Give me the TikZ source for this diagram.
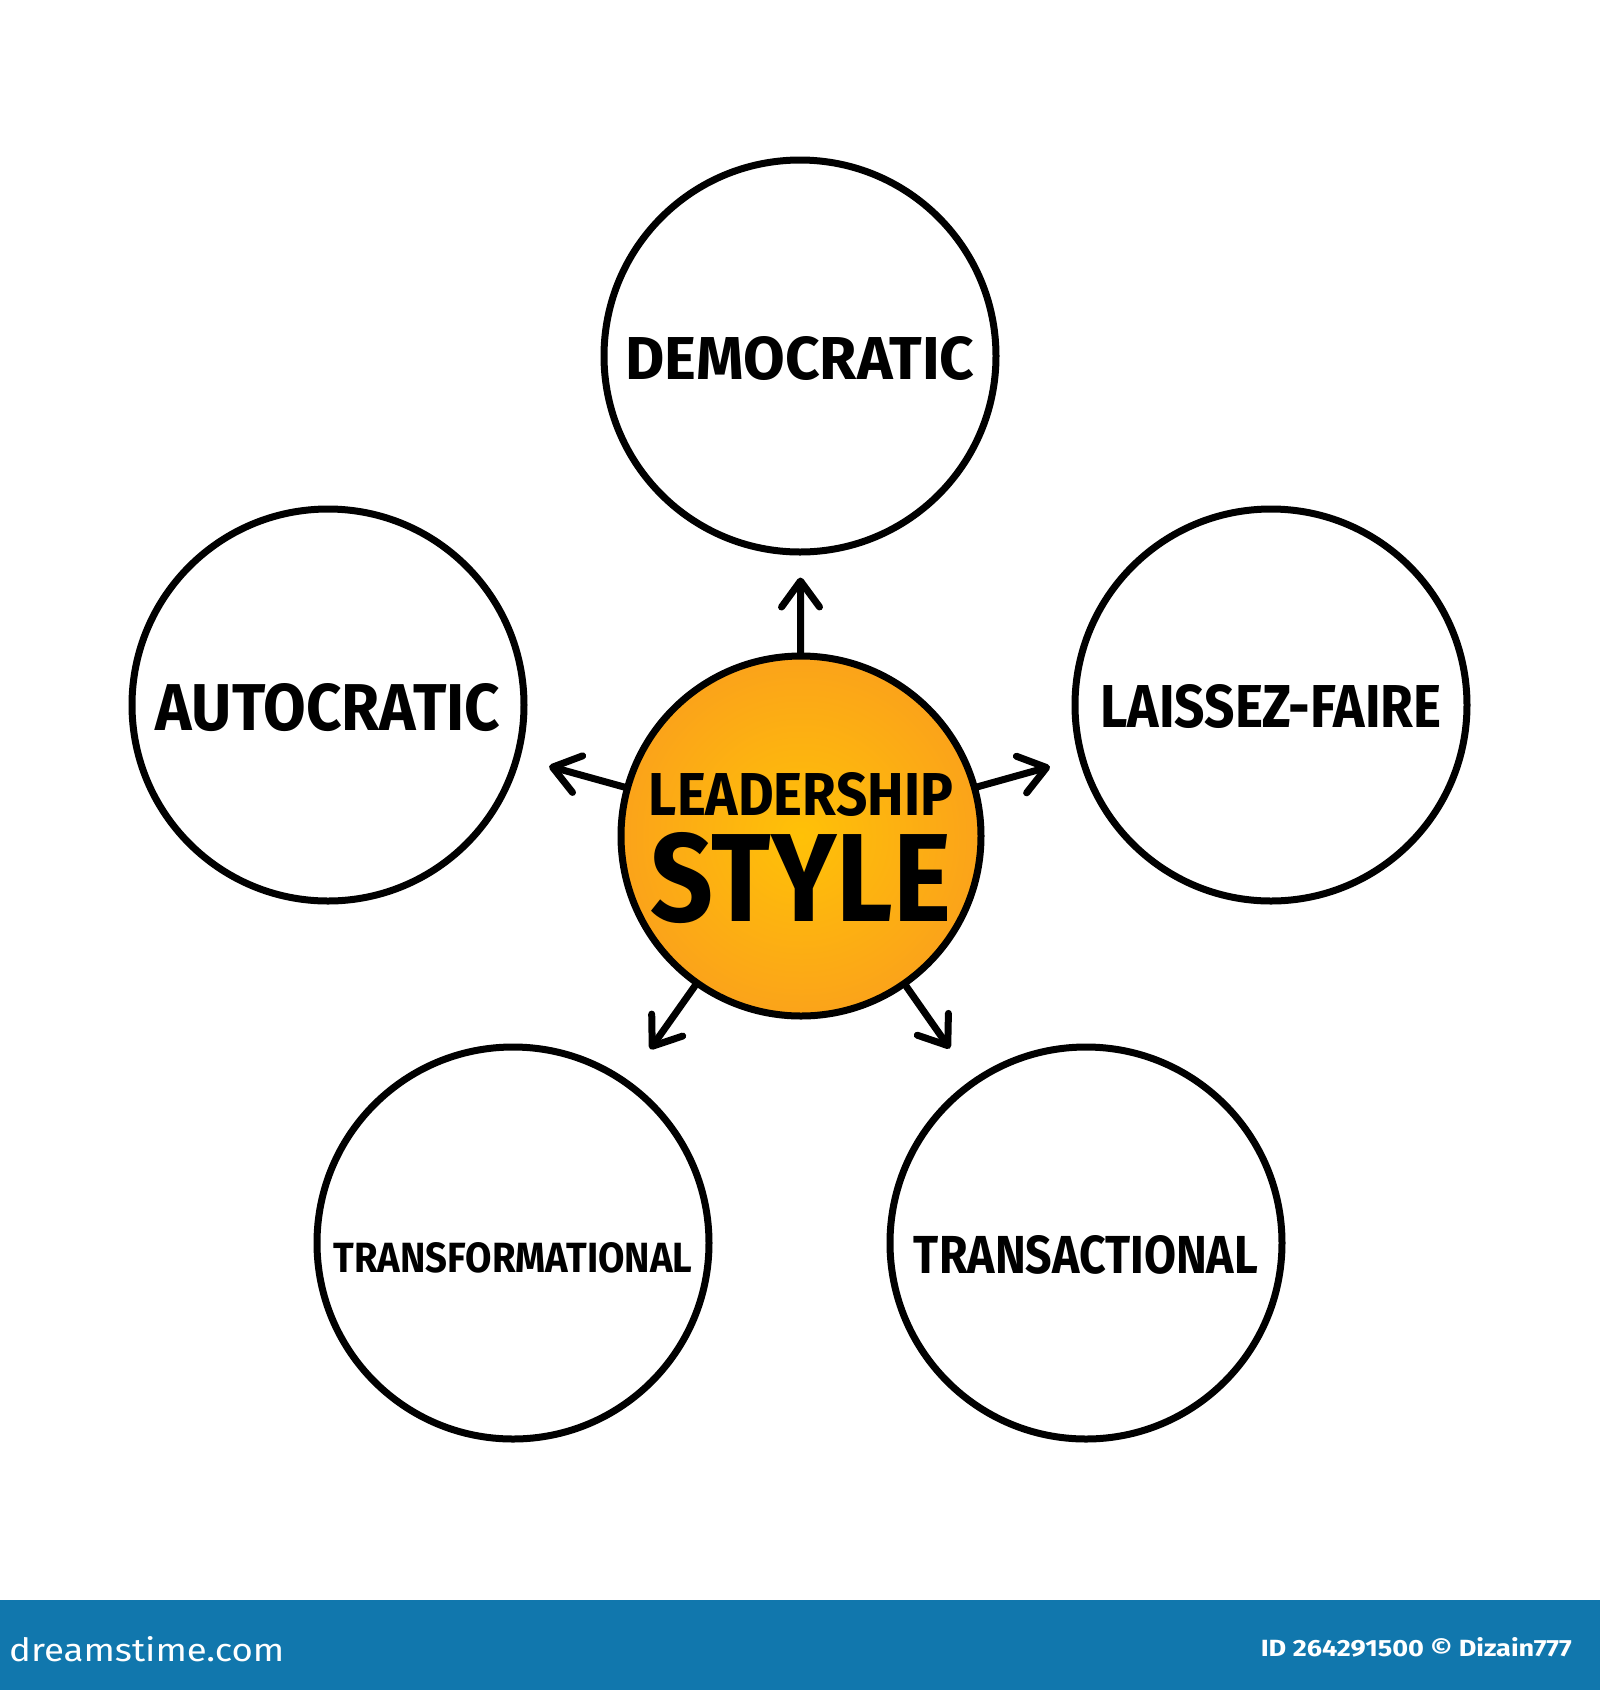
\documentclass[tikz,border=0pt]{standalone}
\usepackage{fontspec}
\setmainfont{Fira Sans}
\usepackage{graphicx}
\usetikzlibrary{arrows.meta}

\definecolor{coreinner}{RGB}{255,193,7}
\definecolor{coreouter}{RGB}{251,163,26}
\definecolor{stripe}{RGB}{17,119,173}
\newcommand{\fitlabel}[3]{\resizebox{#1}{#2}{\bfseries #3}}
\newcommand{\drop}[2]{\raisebox{-#1}[\height][0pt]{#2}}

\begin{document}
\begin{tikzpicture}[x=1pt,y=-1pt,
  kind/.style={circle,draw,line width=7pt,minimum size=392pt,inner sep=0pt},
  core/.style={circle,draw,line width=7pt,minimum size=360pt,inner sep=0pt,
    inner color=coreinner,outer color=coreouter},
  spoke/.style={-{Straight Barb[length=26pt,width=38pt,line cap=round,line join=round]},
    line width=7pt,line cap=round}]
\useasboundingbox (0,0) rectangle (1600,1690);
\node[core] (core) at (801,836)
  {\drop{11pt}{\shortstack{\fitlabel{304pt}{43pt}{LEADERSHIP}\\[12pt]\fitlabel{300pt}{89pt}{STYLE}}}};
\node[kind] (dem) at (800,356) {\drop{2pt}{\fitlabel{349pt}{43pt}{DEMOCRATIC}}};
\node[kind] (auto) at (328,705) {\drop{2pt}{\fitlabel{344pt}{47pt}{AUTOCRATIC}}};
\node[kind] (laissez) at (1271,705) {\drop{1pt}{\fitlabel{341pt}{43pt}{LAISSEZ-FAIRE}}};
\node[kind] (transf) at (513,1243) {\drop{14pt}{\fitlabel{359pt}{30pt}{TRANSFORMATIONAL}}};
\node[kind] (transa) at (1086,1243) {\drop{11pt}{\fitlabel{344pt}{38pt}{TRANSACTIONAL}}};
% spokes
\path[spoke]
(core) edge[shorten >=22pt] (dem);
\path[spoke]
(core) edge[shorten >=30pt] (auto);
\path[spoke]
(core) edge[shorten >=30pt] (laissez);
\path[spoke]
(core) edge[shorten >=38pt] (transf);
\path[spoke]
(core) edge[shorten >=38pt] (transa);
% bottom strip
\fill[stripe] (0,1600) rectangle (1600,1690);
\node[anchor=west,text=white,inner sep=0pt] (site) at (9,1649)
  {\resizebox{275pt}{25pt}{dreamstime.com}};
\node[anchor=east,text=white,inner sep=0pt] (credit) at (1572,1647)
  {\resizebox{311pt}{19pt}{\bfseries ID 264291500 © Dizain777}};
\end{tikzpicture}
\end{document}
